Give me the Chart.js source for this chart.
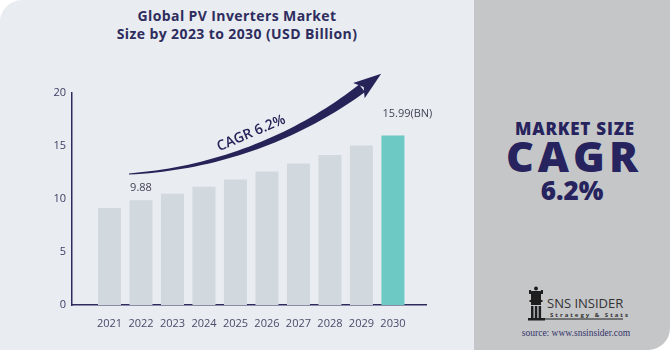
<!DOCTYPE html>
<html>
<head>
<meta charset="utf-8">
<script src="https://cdn.jsdelivr.net/npm/chart.js@4.4.0/dist/chart.umd.min.js"></script>
<style>
  html, body { margin: 0; padding: 0; background: #ffffff; }
  #wrap { position: relative; width: 670px; height: 350px; overflow: hidden; font-family: "Open Sans", sans-serif; }
  #left { position: absolute; left: 0; top: 0; width: 474px; height: 350px; background: #e9ecf1; border-top-left-radius: 22px; }
  #right { position: absolute; left: 474px; top: 0; width: 196px; height: 350px; background: #c5c6c8; border-bottom-right-radius: 22px; color: #26235e; }
  #title { position: absolute; left: 0; top: 7px; width: 474px; text-align: center; font-weight: 700; font-size: 14px; line-height: 18px; letter-spacing: 0.4px; color: #2e2d5e; }
  #myChart { position: absolute; left: 0; top: 0; }
  .big { position: absolute; left: 0; width: 196px; text-align: center; font-weight: 800; }
  .ms { top: 118px; font-size: 17px; line-height: 22px; letter-spacing: 0.8px; padding-left: 6px; box-sizing: border-box; }
  .cagr { top: 132px; font-size: 43px; line-height: 48px; letter-spacing: 4px; padding-left: 4px; box-sizing: border-box; }
  .pct { top: 175px; font-size: 26px; line-height: 30px; }
  .logo { position: absolute; left: 52px; top: 286px; }
  .sns { position: absolute; left: 73px; top: 295px; font-size: 13px; line-height: 17px; color: #333333; white-space: nowrap; }
  .strat { position: absolute; left: 76px; top: 311px; font-size: 6px; line-height: 8px; font-weight: 700; color: #333333; letter-spacing: 2px; white-space: nowrap; }
  .src { position: absolute; left: 0; top: 327px; width: 196px; padding-left: 8px; box-sizing: border-box; text-align: center; font-family: "Liberation Serif", serif; font-size: 9.5px; line-height: 12px; color: #34336a; }
</style>
</head>
<body>
<div id="wrap">
  <div id="left">
    <div id="title">Global PV Inverters Market<br>Size by 2023 to 2030 (USD Billion)</div>
    <canvas id="myChart" width="474" height="350"></canvas>
  </div>
  <div id="right">
    <div class="big ms">MARKET SIZE</div>
    <div class="big cagr">CAGR</div>
    <div class="big pct">6.2%</div>
    <svg class="logo" width="100" height="36" viewBox="0 0 100 36">
      <g fill="#1e1e1e">
        <circle cx="10" cy="2.5" r="2"/>
        <rect x="3" y="5" width="14" height="3"/>
        <rect x="3" y="4" width="2" height="2"/>
        <rect x="15" y="4" width="2" height="2"/>
        <rect x="5" y="8" width="10" height="6"/>
        <rect x="3.5" y="14" width="13" height="2"/>
        <rect x="5" y="16" width="10" height="3"/>
        <rect x="5" y="20" width="2.5" height="12"/>
        <rect x="8.8" y="20" width="2.5" height="12"/>
        <rect x="12.6" y="20" width="2.5" height="12"/>
        <rect x="2" y="32" width="17" height="2.5"/>
        <rect x="17" y="32.5" width="80" height="1"/>
      </g>
    </svg>
    <div class="sns">SNS INSIDER</div>
    <div class="strat">Strategy &amp; Stats</div>
    <div class="src">source: www.snsinsider.com</div>
  </div>
</div>
<script>
const years = [2021, 2022, 2023, 2024, 2025, 2026, 2027, 2028, 2029, 2030];
const values = [9.15, 9.88, 10.5, 11.15, 11.85, 12.6, 13.35, 14.15, 15.05, 15.99];
const yTicks = [0, 5, 10, 15, 20];
const labelIndex = [1, 9];

const grayBar = '#d1d8de';
const tealBar = '#6dc9c4';
const navy = '#2d2b5e';

let barColors = years.map((y, i) => i === years.length - 1 ? tealBar : grayBar);

// value labels above 2022 and 2030
const valueLabels = {
    id: 'valueLabels',
    afterDatasetsDraw(chart) {
        let ctx = chart.ctx;
        let meta = chart.getDatasetMeta(0);
        ctx.save();
        ctx.font = '11px "Open Sans"';
        ctx.fillStyle = '#444455';
        ctx.textBaseline = 'middle';
        labelIndex.forEach(i => {
            let bar = meta.data[i];
            if (i === years.length - 1) {
                ctx.textAlign = 'left';
                ctx.fillText(values[i].toFixed(2) + '(BN)', bar.x - bar.width / 2 + 1, bar.y - 22);
            } else {
                ctx.textAlign = 'center';
                ctx.fillText(values[i].toFixed(2), bar.x, bar.y - 12);
            }
        });
        ctx.restore();
    }
};

// curved CAGR arrow, placed in scale units
const cagrArrow = {
    id: 'cagrArrow',
    afterDraw(chart) {
        let ctx = chart.ctx;
        let xs = chart.scales.x, ys = chart.scales.y;
        let p = (a, b) => ({ x: xs.getPixelForValue(a), y: ys.getPixelForValue(b) });
        let P0 = p(2021.62, 12.36), P1 = p(2024.5, 12.9), P2 = p(2027.05, 16.0), P3 = p(2029.02, 20.45);

        let bez = t => {
            let u = 1 - t;
            return {
                x: u*u*u*P0.x + 3*u*u*t*P1.x + 3*u*t*t*P2.x + t*t*t*P3.x,
                y: u*u*u*P0.y + 3*u*u*t*P1.y + 3*u*t*t*P2.y + t*t*t*P3.y
            };
        };
        let der = t => {
            let u = 1 - t;
            return {
                x: 3*u*u*(P1.x-P0.x) + 6*u*t*(P2.x-P1.x) + 3*t*t*(P3.x-P2.x),
                y: 3*u*u*(P1.y-P0.y) + 6*u*t*(P2.y-P1.y) + 3*t*t*(P3.y-P2.y)
            };
        };
        let upper = [], lower = [];
        for (let k = 0; k <= 40; k++) {
            let t = k / 40;
            let b = bez(t), d = der(t);
            let len = Math.hypot(d.x, d.y);
            let nx = -d.y / len, ny = d.x / len;
            let w = 0.6 + 4.2 * t;
            upper.push({ x: b.x + nx * w, y: b.y + ny * w });
            lower.push({ x: b.x - nx * w, y: b.y - ny * w });
        }
        ctx.save();
        ctx.fillStyle = '#252358';
        ctx.beginPath();
        ctx.moveTo(upper[0].x, upper[0].y);
        upper.forEach(q => ctx.lineTo(q.x, q.y));
        for (let k = lower.length - 1; k >= 0; k--) ctx.lineTo(lower[k].x, lower[k].y);
        ctx.closePath();
        ctx.fill();

        // head
        let d = der(1);
        let len = Math.hypot(d.x, d.y);
        let dx = d.x / len, dy = d.y / len;
        let nx = -dy, ny = dx;
        ctx.beginPath();
        ctx.moveTo(P3.x + nx * 9.5 - dx * 4, P3.y + ny * 9.5 - dy * 4);
        ctx.lineTo(P3.x + dx * 24, P3.y + dy * 24);
        ctx.lineTo(P3.x - nx * 9.5 - dx * 4, P3.y - ny * 9.5 - dy * 4);
        ctx.lineTo(P3.x + dx * 2, P3.y + dy * 2);
        ctx.closePath();
        ctx.fill();

        // label
        let c = p(2025.5, 16.2);
        ctx.translate(c.x, c.y);
        ctx.rotate(-23 * Math.PI / 180);
        ctx.font = '600 14px "Open Sans"';
        ctx.textAlign = 'center';
        ctx.textBaseline = 'middle';
        ctx.fillText('CAGR 6.2%', 0, 0);
        ctx.restore();
    }
};

let ctx = document.getElementById('myChart').getContext('2d');

let myChart = new Chart(ctx, {
    type: 'bar',
    data: {
        datasets: [{
            data: years.map((y, i) => ({ x: y, y: values[i] })),
            backgroundColor: barColors,
            borderWidth: 0,
            barPercentage: 0.73,
            categoryPercentage: 1
        }]
    },
    options: {
        responsive: false,
        animation: false,
        devicePixelRatio: 1,
        layout: {
            padding: { top: 93, right: 48, left: 0, bottom: 0 }
        },
        scales: {
            x: {
                type: 'linear',
                min: 2019.81,
                max: 2031.05,
                offset: false,
                grid: { display: false },
                border: { color: navy, width: 1.5 },
                afterFit(scale) { scale.height = 45; },
                ticks: {
                    stepSize: 1,
                    includeBounds: false,
                    autoSkip: false,
                    maxRotation: 0,
                    padding: 4,
                    color: '#4b4a6b',
                    font: { family: 'Open Sans', size: 11 },
                    callback: v => years.includes(v) ? String(v) : ''
                }
            },
            y: {
                min: yTicks[0],
                max: yTicks[yTicks.length - 1],
                grid: { display: false, drawTicks: false },
                border: { color: navy, width: 1.5 },
                afterFit(scale) { scale.width = 72; },
                afterBuildTicks(scale) { scale.ticks = yTicks.map(v => ({ value: v })); },
                ticks: {
                    padding: 6,
                    color: '#3d3c63',
                    font: { family: 'Open Sans', size: 11 }
                }
            }
        },
        plugins: {
            legend: { display: false },
            tooltip: { enabled: false }
        }
    },
    plugins: [valueLabels, cagrArrow]
});
</script>
</body>
</html>
